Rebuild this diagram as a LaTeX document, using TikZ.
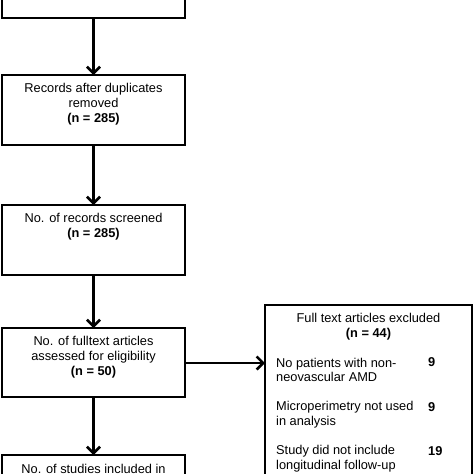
\documentclass[tikz,border=0pt]{standalone}
\usepackage{fontspec}
\setmainfont{Liberation Sans}
\usetikzlibrary{arrows.meta}
\tikzset{
  box/.style={draw=black, line width=2.8pt, fill=none},
  conn/.style={draw=black, line width=2.8pt, -{Straight Barb[length=6.5pt,width=13pt,line width=2.6pt]}},
  txt/.style={font=\fontsize{12.8}{14.8}\selectfont, inner sep=0pt, align=center},
  ltxt/.style={font=\fontsize{12.8}{14.8}\selectfont, inner sep=0pt, align=left, anchor=west},
}
\begin{document}
\begin{tikzpicture}[x=1pt, y=-1pt]
\useasboundingbox (0,0) rectangle (474,474);
\clip (0,0) rectangle (474,474);
% left column boxes
\draw[box] (2,-60) rectangle (185,18);
\coordinate (b1s) at (93.5,18);
\draw[box] (2,75) rectangle (185,145);
\coordinate (b2n) at (93.5,75);
\coordinate (b2s) at (93.5,145);
\draw[box] (2,205) rectangle (185,275);
\coordinate (b3n) at (93.5,205);
\coordinate (b3s) at (93.5,275);
\draw[box] (2,328) rectangle (185,397);
\coordinate (b4n) at (93.5,328);
\coordinate (b4s) at (93.5,397);
\coordinate (b4e) at (185,363);
\draw[box] (2,455) rectangle (185,540);
\coordinate (b5n) at (93.5,455);
% right box
\draw[box] (265,305) rectangle (472,540);
\coordinate (rw) at (265,363);
% texts
\node[txt] (t2) at (93.5,104) {Records after duplicates\\removed\\\textbf{(n = 285)}};
\node[txt] (t3) at (93.5,227) {No. of records screened\\\textbf{(n = 285)}};
\node[txt] (t4) at (93.5,357) {No. of fulltext articles\\assessed for eligibility\\\textbf{(n = 50)}};
\node[txt] (t5) at (93.5,469) {No. of studies included in};
\node[txt] (rh) at (368.5,327) {Full text articles excluded\\\textbf{(n = 44)}};
\node[ltxt] (i1) at (276,370) {No patients with non-\\neovascular AMD};
\node[ltxt] (n1) at (428,362.5) {\textbf{9}};
\node[ltxt] (i2) at (276,415) {Microperimetry not used\\in analysis};
\node[ltxt] (n2) at (428,407.5) {\textbf{9}};
\node[ltxt] (i3) at (276,459) {Study did not include\\longitudinal follow-up};
\node[ltxt] (n3) at (428,451.5) {\textbf{19}};
% connectors
\draw[conn] (b1s) -- (b2n);
\draw[conn] (b2s) -- (b3n);
\draw[conn] (b3s) -- (b4n);
\draw[conn] (b4s) -- (b5n);
\draw[conn] (b4e) -- (rw);
\end{tikzpicture}
\end{document}
